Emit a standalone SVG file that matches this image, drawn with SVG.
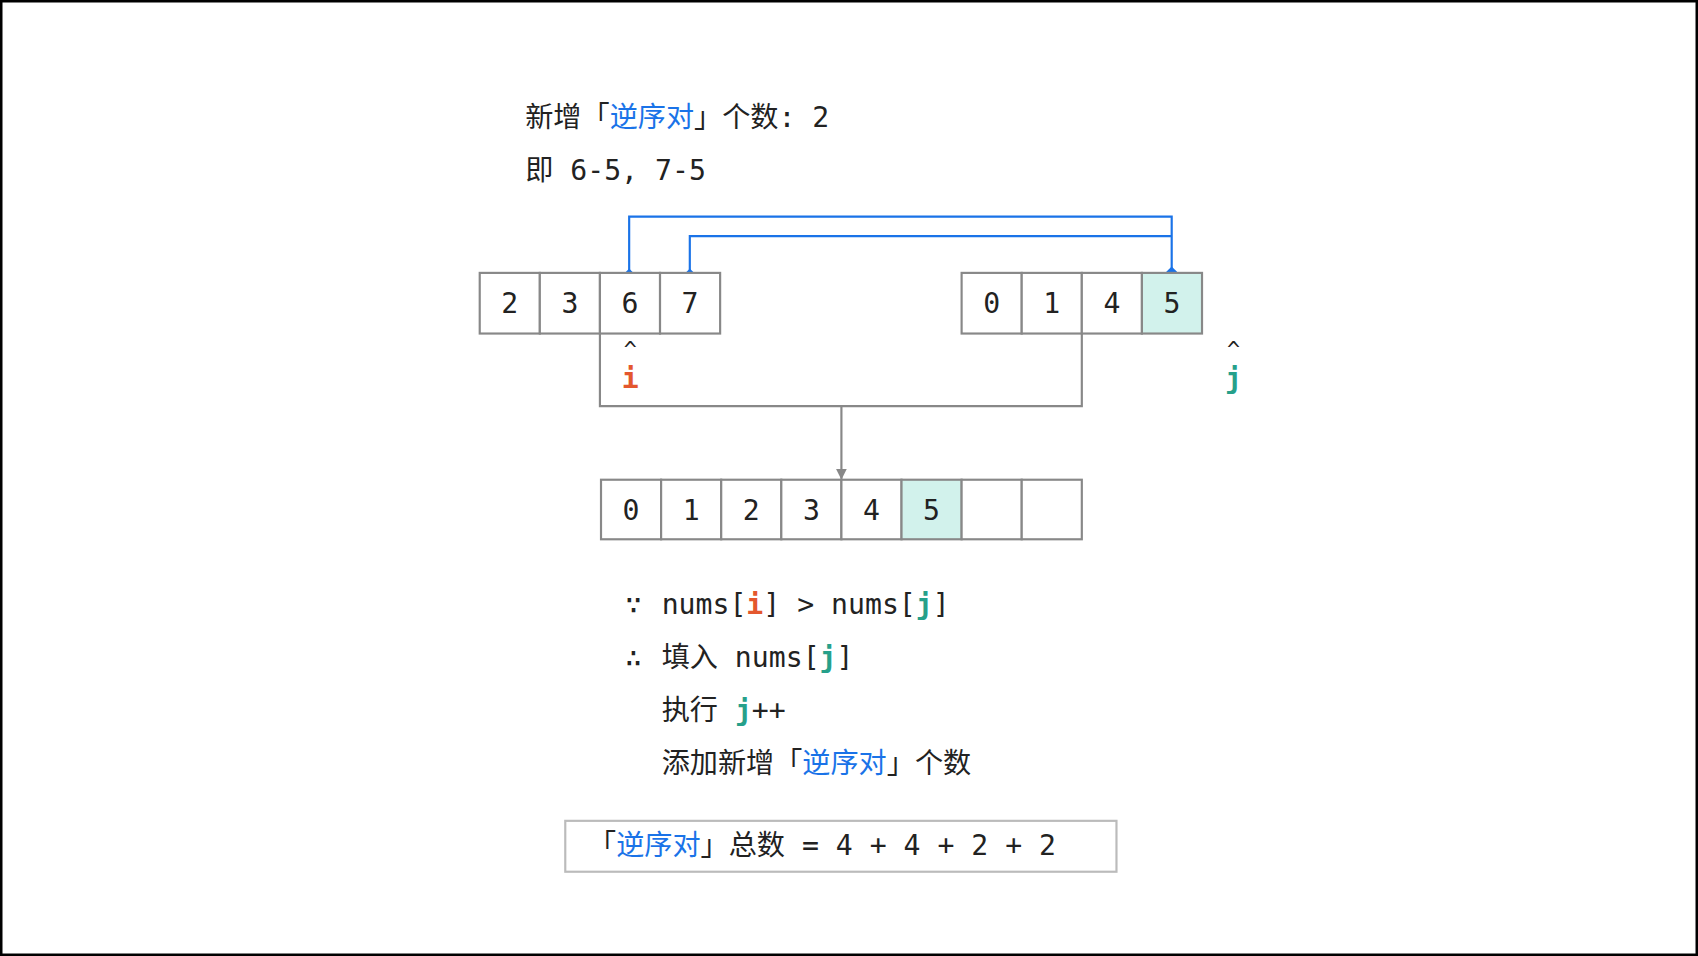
<svg xmlns="http://www.w3.org/2000/svg" width="1698" height="956" viewBox="0 0 1698 956">
<style>
text{font-family:"DejaVu Sans Mono","Noto Sans CJK SC",monospace;font-size:26px;fill:#222}
.c{text-anchor:middle}
.cell{fill:#fff;stroke:#888;stroke-width:2}
.hl{fill:#d2f2ec}
.b{fill:#1a73e8}
.r{fill:#e4572e;font-weight:bold}
.g{fill:#26a08a;font-weight:bold}
.gl{fill:none;stroke:#888;stroke-width:2}
.bl{fill:none;stroke:#1a73e8;stroke-width:2}
</style>
<defs>
<marker id="ar" markerWidth="10" markerHeight="10" refX="9" refY="5" orient="auto" markerUnits="userSpaceOnUse"><path d="M0,0 L10,5 L0,10 z" fill="#888"/></marker>
<marker id="dm" markerWidth="10" markerHeight="10" refX="5" refY="5" orient="auto" markerUnits="userSpaceOnUse"><path d="M5,0 L10,5 L5,10 L0,5 z" fill="#1a73e8"/></marker>
</defs>
<rect x="1" y="1" width="1696" height="954" fill="#fff" stroke="#000" stroke-width="3"/>
<g transform="scale(1.0829)">
<g id="header">
<text x="485" y="117">新增「<tspan class="b">逆序对</tspan>」个数: 2</text>
<text x="485" y="166">即 6-5, 7-5</text>
</g>
<g id="connectors">
<path class="gl" d="M554,308 V375 H999 V308"/>
<path class="gl" d="M777,375 V442" marker-end="url(#ar)"/>
<path class="bl" d="M581,253 V200 H1082 V251" marker-start="url(#dm)" marker-end="url(#dm)"/>
<path class="bl" d="M637,253 V218 H1082" marker-start="url(#dm)"/>
</g>
<g id="left">
<rect class="cell" x="443" y="252" width="55.5" height="56"/><text class="c" x="470.75" y="289">2</text>
<rect class="cell" x="498.5" y="252" width="55.5" height="56"/><text class="c" x="526.25" y="289">3</text>
<rect class="cell" x="554" y="252" width="55.5" height="56"/><text class="c" x="581.75" y="289">6</text>
<rect class="cell" x="609.5" y="252" width="55.5" height="56"/><text class="c" x="637.25" y="289">7</text>
</g>
<g id="right">
<rect class="cell" x="888" y="252" width="55.5" height="56"/><text class="c" x="915.75" y="289">0</text>
<rect class="cell" x="943.5" y="252" width="55.5" height="56"/><text class="c" x="971.25" y="289">1</text>
<rect class="cell" x="999" y="252" width="55.5" height="56"/><text class="c" x="1026.75" y="289">4</text>
<rect class="cell hl" x="1054.5" y="252" width="55.5" height="56"/><text class="c" x="1082.25" y="289">5</text>
</g>
<g id="pointers">
<text class="c" x="582" y="330" style="font-size:20px">^</text><text class="c r" x="582" y="358">i</text>
<text class="c" x="1139" y="330" style="font-size:20px">^</text><text class="c g" x="1139" y="358">j</text>
</g>
<g id="merged">
<rect class="cell" x="555" y="443" width="55.5" height="55"/><text class="c" x="582.75" y="480">0</text>
<rect class="cell" x="610.5" y="443" width="55.5" height="55"/><text class="c" x="638.25" y="480">1</text>
<rect class="cell" x="666" y="443" width="55.5" height="55"/><text class="c" x="693.75" y="480">2</text>
<rect class="cell" x="721.5" y="443" width="55.5" height="55"/><text class="c" x="749.25" y="480">3</text>
<rect class="cell" x="777" y="443" width="55.5" height="55"/><text class="c" x="804.75" y="480">4</text>
<rect class="cell hl" x="832.5" y="443" width="55.5" height="55"/><text class="c" x="860.25" y="480">5</text>
<rect class="cell" x="888" y="443" width="55.5" height="55"/>
<rect class="cell" x="943.5" y="443" width="55.5" height="55"/>
</g>
<g id="explain">
<text class="c" x="585" y="567">∵</text><text x="611" y="567">nums[<tspan class="r">i</tspan>] &gt; nums[<tspan class="g">j</tspan>]</text>
<text class="c" x="585" y="616">∴</text><text x="611" y="616">填入 nums[<tspan class="g">j</tspan>]</text>
<text x="611" y="665">执行 <tspan class="g">j</tspan>++</text>
<text x="611" y="714">添加新增「<tspan class="b">逆序对</tspan>」个数</text>
</g>
<g id="total">
<rect x="522" y="758" width="509" height="47" fill="#fff" stroke="#bbb" stroke-width="2"/>
<text x="543" y="790">「<tspan class="b">逆序对</tspan>」总数 = 4 + 4 + 2 + 2</text>
</g>
</g>
</svg>
